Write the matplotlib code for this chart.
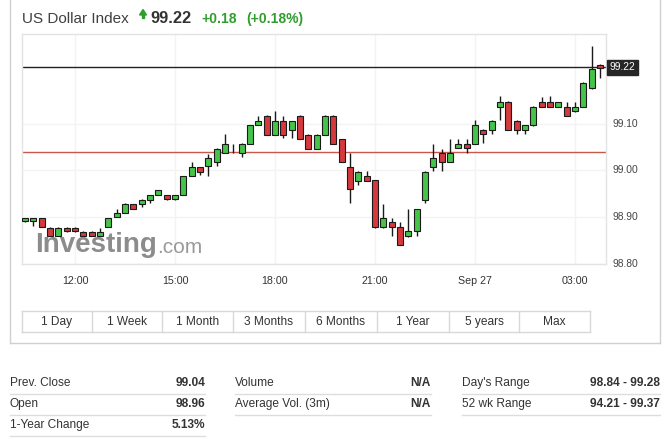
import matplotlib
matplotlib.use("Agg")
import matplotlib.pyplot as plt
from matplotlib.patches import Rectangle, Polygon
from matplotlib.lines import Line2D

plt.rcParams['font.family'] = ['Liberation Sans', 'DejaVu Sans']

# ---------------- data ----------------
opens = [98.891, 98.891, 98.898, 98.877, 98.860, 98.877, 98.877, 98.869, 98.869, 98.860,
         98.880, 98.901, 98.909, 98.928, 98.928, 98.937, 98.948, 98.947, 98.938, 98.948,
         98.989, 99.007, 99.009, 99.018, 99.038, 99.048, 99.038, 99.057, 99.097, 99.117,
         99.076, 99.105, 99.087, 99.117, 99.076, 99.046, 99.076, 99.117, 99.067, 99.008,
         98.977, 98.989, 98.979, 98.878, 98.889, 98.878, 98.859, 98.870, 98.937, 99.008,
         99.038, 99.019, 99.048, 99.057, 99.057, 99.087, 99.087, 99.136, 99.147, 99.106,
         99.087, 99.096, 99.146, 99.146, 99.136, 99.136, 99.126, 99.136, 99.176, 99.226]
highs = [98.899, 98.899, 98.899, 98.878, 98.878, 98.878, 98.878, 98.870, 98.870, 98.877,
         98.899, 98.918, 98.930, 98.929, 98.938, 98.948, 98.959, 98.948, 98.948, 98.989,
         99.019, 99.008, 99.036, 99.047, 99.078, 99.057, 99.058, 99.098, 99.117, 99.118,
         99.128, 99.117, 99.106, 99.118, 99.077, 99.077, 99.118, 99.118, 99.068, 99.038,
         98.998, 98.998, 98.980, 98.929, 98.899, 98.889, 98.918, 98.918, 98.998, 99.057,
         99.046, 99.068, 99.068, 99.068, 99.108, 99.088, 99.107, 99.158, 99.148, 99.107,
         99.097, 99.137, 99.156, 99.158, 99.147, 99.146, 99.146, 99.188, 99.266, 99.227]
lows = [98.890, 98.881, 98.879, 98.859, 98.859, 98.869, 98.869, 98.859, 98.859, 98.859,
        98.879, 98.900, 98.908, 98.917, 98.921, 98.931, 98.947, 98.937, 98.937, 98.947,
        98.988, 98.990, 98.989, 99.009, 99.037, 99.038, 99.029, 99.056, 99.096, 99.075,
        99.075, 99.070, 99.069, 99.067, 99.045, 99.045, 99.075, 99.056, 99.018, 98.930,
        98.968, 98.977, 98.877, 98.877, 98.860, 98.840, 98.858, 98.860, 98.931, 98.999,
        98.999, 99.018, 99.047, 99.038, 99.056, 99.059, 99.078, 99.108, 99.086, 99.078,
        99.078, 99.095, 99.135, 99.135, 99.135, 99.116, 99.125, 99.135, 99.175, 99.197]
closes = [98.898, 98.898, 98.880, 98.860, 98.877, 98.870, 98.870, 98.860, 98.860, 98.869,
          98.898, 98.909, 98.929, 98.918, 98.937, 98.947, 98.958, 98.938, 98.947, 98.988,
          99.007, 98.997, 99.027, 99.046, 99.057, 99.048, 99.057, 99.097, 99.105, 99.076,
          99.105, 99.076, 99.105, 99.068, 99.046, 99.076, 99.117, 99.057, 99.019, 98.960,
          98.997, 98.978, 98.878, 98.899, 98.878, 98.840, 98.870, 98.918, 98.997, 99.027,
          99.019, 99.038, 99.057, 99.048, 99.098, 99.077, 99.106, 99.147, 99.087, 99.087,
          99.096, 99.136, 99.136, 99.136, 99.146, 99.117, 99.136, 99.187, 99.216, 99.218]

tick_positions = [6, 18, 30, 42, 54, 66]
tick_labels = ["12:00", "15:00", "18:00", "21:00", "Sep 27", "03:00"]
y_ticks = [98.80, 98.90, 99.00, 99.10]
y_tick_labels = ["98.80", "98.90", "99.00", "99.10"]

last_price = 99.22
prev_close = 99.04

ranges = ["1 Day", "1 Week", "1 Month", "3 Months", "6 Months", "1 Year", "5 years", "Max"]

stat_labels = [["Prev. Close", "Open", "1-Year Change"],
               ["Volume", "Average Vol. (3m)"],
               ["Day's Range", "52 wk Range"]]
stat_values = [["99.04", "98.96", "5.13%"],
               ["N/A", "N/A"],
               ["98.84 - 99.28", "94.21 - 99.37"]]

# ---------------- figure ----------------
W, H = 671, 440
fig = plt.figure(figsize=(W / 100, H / 100), dpi=100)
fig.patch.set_facecolor('white')

def fx(px):
    return px / W

def fy(py):
    return 1 - py / H

# outer container
border_c = '#d0d0d0'
fig.add_artist(Line2D([fx(10), fx(10)], [fy(0), fy(343)], color=border_c, lw=1))
fig.add_artist(Line2D([fx(660), fx(660)], [fy(0), fy(343)], color=border_c, lw=1))
fig.add_artist(Line2D([fx(10), fx(660)], [fy(343), fy(343)], color=border_c, lw=1))

# header
fig.text(fx(22), fy(23), "US Dollar Index", fontsize=11, color='#404040', va='baseline', ha='left')
green_txt = '#2f9e2f'
fig.add_artist(Polygon([[fx(139.5), fy(15)], [fx(143), fy(9.5)], [fx(146.5), fy(15)]],
                       closed=True, color=green_txt, transform=fig.transFigure))
fig.add_artist(Rectangle((fx(142), fy(18)), fx(2), fy(15) - fy(18), color=green_txt,
                         transform=fig.transFigure))
fig.text(fx(150), fy(23), "99.22", fontsize=11.8, fontweight='bold', color='#333333', va='baseline')
fig.text(fx(201), fy(23), "+0.18", fontsize=10, fontweight='bold', color=green_txt, va='baseline')
fig.text(fx(246), fy(23), "(+0.18%)", fontsize=10, fontweight='bold', color=green_txt, va='baseline')

# chart axes
x_left, x_right = 22, 606
y_top, y_bot = 34, 264
ax = fig.add_axes([fx(x_left), fy(y_bot), fx(x_right) - fx(x_left), fy(y_top) - fy(y_bot)])
spacing = 100 / 12.0
ax.set_xlim((x_left - 25) / spacing, (x_right - 25) / spacing)
ax.set_ylim(98.80 + (265 - y_bot) / 470.0, 98.80 + (265 - y_top) / 470.0)
for s in ax.spines.values():
    s.set_color('#e3e3e3')
    s.set_linewidth(1)

ax.set_xticks(tick_positions)
ax.set_xticklabels(tick_labels)
ax.set_yticks(y_ticks)
ax.set_yticklabels(y_tick_labels)
ax.yaxis.tick_right()
ax.tick_params(axis='x', length=0, pad=9, labelsize=7.7, labelcolor='#333333')
ax.tick_params(axis='y', length=0, pad=5, labelsize=7.4, labelcolor='#444444')
for lbl in ax.get_yticklabels():
    lbl.set_verticalalignment('center')
ax.grid(True, color='#f3f3f3', lw=1)
ax.set_axisbelow(True)

# watermark
ax.text(0.023, 0.05, "Investing", transform=ax.transAxes, fontsize=20, fontweight='bold',
        color='#8c8c8c', va='baseline', ha='left', zorder=1)
ax.text(0.232, 0.05, ".com", transform=ax.transAxes, fontsize=15,
        color='#9a9a9a', va='baseline', ha='left', zorder=1)

# candles
green_c = '#45c449'
red_c = '#d5393d'
xs = list(range(len(opens)))
ax.vlines(xs, lows, highs, color='#1a1a1a', lw=1, zorder=3)
for i in xs:
    o, c = opens[i], closes[i]
    if o == c:
        continue
    col = green_c if c > o else red_c
    ax.bar(i, c - o, bottom=o, width=0.72, color=col, edgecolor='#1a1a1a', lw=0.8, zorder=4)

# reference lines
ax.axhline(prev_close, color='#c0392b', lw=1, zorder=2, alpha=0.85)
ax.axhline(last_price, color='#222222', lw=1, zorder=2)

# last price label box
ax.annotate("99.22", xy=(1.0, last_price), xycoords=('axes fraction', 'data'),
            xytext=(2.5, 0), textcoords='offset points', fontsize=7.4, color='white',
            va='center', ha='left',
            bbox=dict(boxstyle='square,pad=0.25', fc='#262626', ec='#262626'),
            annotation_clip=False)

# range buttons
btn_edges = [22, 92, 162, 233, 305, 377, 449, 519, 590]
btn_top, btn_bot = 311, 332
bc = '#d8d8d8'
fig.add_artist(Line2D([fx(btn_edges[0]), fx(btn_edges[-1])], [fy(btn_top), fy(btn_top)], color=bc, lw=1))
fig.add_artist(Line2D([fx(btn_edges[0]), fx(btn_edges[-1])], [fy(btn_bot), fy(btn_bot)], color=bc, lw=1))
for e in btn_edges:
    fig.add_artist(Line2D([fx(e), fx(e)], [fy(btn_top), fy(btn_bot)], color=bc, lw=1))
for k, name in enumerate(ranges):
    cx = (btn_edges[k] + btn_edges[k + 1]) / 2
    fig.text(fx(cx), fy((btn_top + btn_bot) / 2), name, fontsize=8.6, color='#333333',
             ha='center', va='center')

# stats table
col_left = [10, 235, 462]
col_right = [205, 431, 660]
row_y = [383, 404, 425]
for c in range(3):
    for r, (lab, val) in enumerate(zip(stat_labels[c], stat_values[c])):
        fig.text(fx(col_left[c]), fy(row_y[r]), lab, fontsize=8.6, color='#333333',
                 ha='left', va='center')
        fig.text(fx(col_right[c]), fy(row_y[r]), val, fontsize=8.6, color='#333333',
                 fontweight='bold', ha='right', va='center')
        fig.add_artist(Line2D([fx(col_left[c]), fx(col_right[c])],
                              [fy(row_y[r] + 10.5), fy(row_y[r] + 10.5)], color='#dddddd', lw=1))

fig.savefig("out.png", dpi=100)
